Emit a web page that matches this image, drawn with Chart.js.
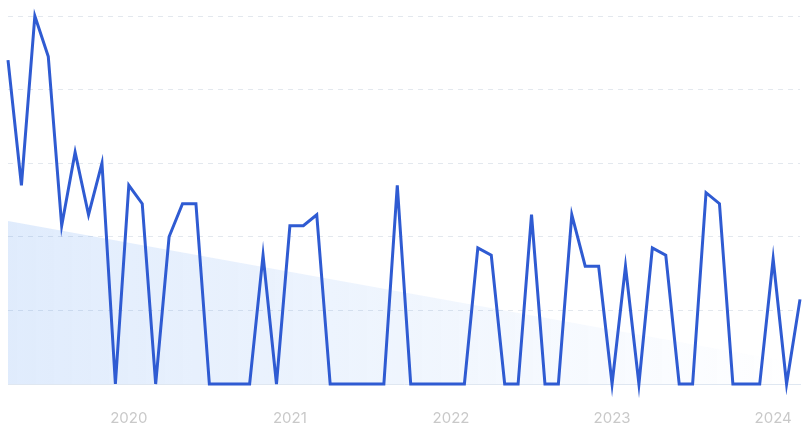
<!DOCTYPE html>
<html>
<head>
<meta charset="utf-8">
<script src="https://cdn.jsdelivr.net/npm/chart.js@4"></script>
<style>
  html, body { margin: 0; padding: 0; background: #fff; }
  #wrap { width: 810px; height: 429px; }
</style>
</head>
<body>
<div id="wrap"><canvas id="trendChart"></canvas></div>
<script>
// monthly categories, Apr 2019 - Mar 2024
let months = [
    '2019-04','2019-05','2019-06','2019-07','2019-08','2019-09','2019-10','2019-11','2019-12',
    '2020-01','2020-02','2020-03','2020-04','2020-05','2020-06','2020-07','2020-08','2020-09','2020-10','2020-11','2020-12',
    '2021-01','2021-02','2021-03','2021-04','2021-05','2021-06','2021-07','2021-08','2021-09','2021-10','2021-11','2021-12',
    '2022-01','2022-02','2022-03','2022-04','2022-05','2022-06','2022-07','2022-08','2022-09','2022-10','2022-11','2022-12',
    '2023-01','2023-02','2023-03','2023-04','2023-05','2023-06','2023-07','2023-08','2023-09','2023-10','2023-11','2023-12',
    '2024-01','2024-02','2024-03'
];

let interest = [
    88, 54, 100, 89, 43, 63, 46, 60, 0,
    54, 49, 0, 40, 49, 49, 0, 0, 0, 0, 35, 0,
    43, 43, 46, 0, 0, 0, 0, 0, 54, 0, 0, 0,
    0, 0, 37, 35, 0, 0, 46, 0, 0, 46, 32, 32,
    0, 32, 0, 37, 35, 0, 0, 52, 49, 0, 0, 0,
    34, 0, 23
];

// trend line, first and last month
let trendStart = 44.3;
let trendEnd = 5.5;

let ctx = document.getElementById('trendChart').getContext('2d');
let chart = new Chart(ctx, {
    type: 'line',
    data: {
        labels: months,
        datasets: [
            {
                label: 'Interest',
                data: interest,
                borderColor: '#2f5bd2',
                borderWidth: 3,
                pointRadius: 0,
                tension: 0,
                fill: false,
                clip: false,
                order: 0
            },
            {
                label: 'Trend',
                data: [
                    { x: months[0], y: trendStart },
                    { x: months[months.length - 1], y: trendEnd }
                ],
                borderWidth: 0,
                borderColor: 'rgba(0,0,0,0)',
                pointRadius: 0,
                fill: 'origin',
                order: 1,
                backgroundColor: function (context) {
                    let area = context.chart.chartArea;
                    if (!area) return 'rgba(70,140,240,0.15)';
                    let g = context.chart.ctx.createLinearGradient(area.left, 0, area.right, 0);
                    g.addColorStop(0, 'rgba(70,140,240,0.17)');
                    g.addColorStop(1, 'rgba(70,140,240,0.0)');
                    return g;
                }
            }
        ]
    },
    options: {
        responsive: true,
        maintainAspectRatio: false,
        animation: false,
        layout: { padding: { left: 8, right: 10, top: 16, bottom: 0 } },
        plugins: {
            legend: { display: false },
            tooltip: { enabled: false }
        },
        scales: {
            x: {
                type: 'category',
                offset: false,
                grid: { display: false, drawTicks: true, tickLength: 23 },
                border: { display: true, color: '#dfe7f1', width: 1 },
                ticks: {
                    autoSkip: false,
                    maxRotation: 0,
                    padding: 2,
                    color: '#c9c9c9',
                    font: { family: 'Inter', size: 15 },
                    callback: function (value) {
                        let m = months[value];
                        return m.endsWith('-01') ? m.slice(0, 4) : null;
                    }
                }
            },
            y: {
                min: 0,
                max: 100,
                ticks: { display: false, stepSize: 20 },
                border: { display: false, dash: [5, 5] },
                grid: {
                    color: function (c) { return c.tick.value === 0 ? 'rgba(0,0,0,0)' : '#e3e8ee'; },
                    drawTicks: false
                }
            }
        }
    }
});
</script>
</body>
</html>
